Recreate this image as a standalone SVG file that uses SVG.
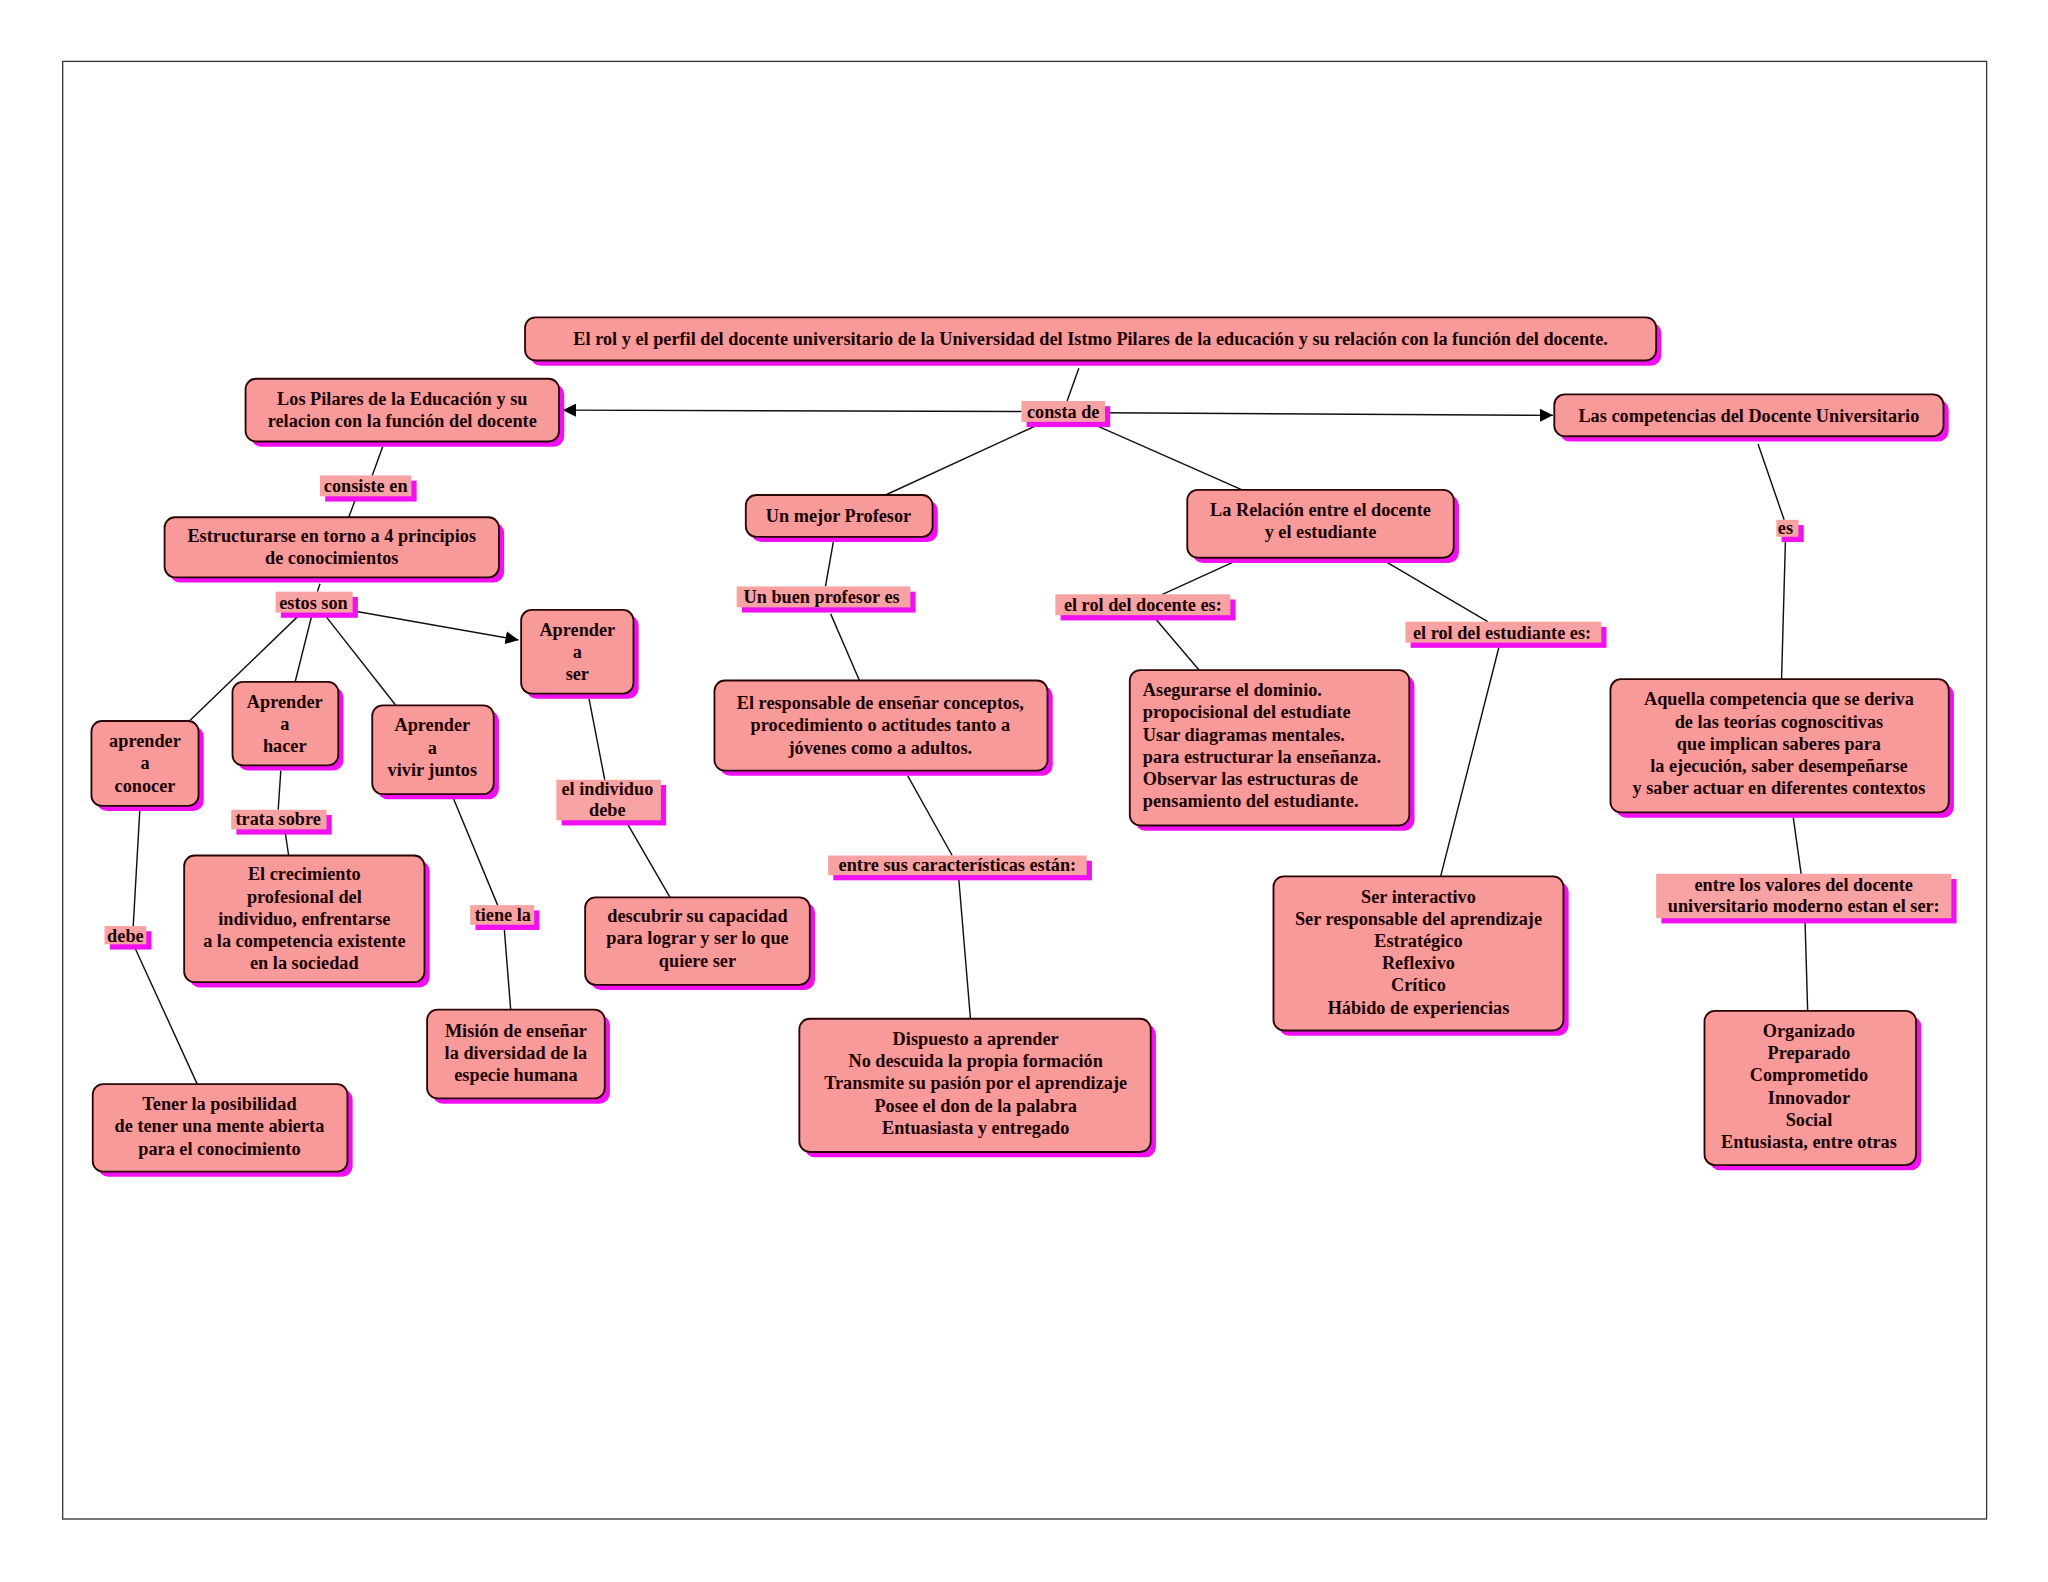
<svg xmlns="http://www.w3.org/2000/svg" width="2048" height="1582" viewBox="0 0 2048 1582">
<style>
.n{fill:#f99a9a;stroke:#2a0505;stroke-width:1.4}
.s{fill:#f010f0}
.l{fill:#f7a3a3}
text{font-family:"Liberation Serif","Times New Roman",serif;font-weight:bold;font-size:14px;fill:#1a0000}
.c{text-anchor:middle}
.e{stroke:#111;stroke-width:1.1;fill:none}
</style>
<defs>
<marker id="ar" viewBox="0 0 10 10" refX="10" refY="5" markerWidth="10" markerHeight="10" markerUnits="userSpaceOnUse" orient="auto"><path d="M0,0L10,5L0,10z" fill="#000"/></marker>
</defs>
<rect width="2048" height="1582" fill="#fff"/>
<g transform="scale(1.30612)">
<rect x="48" y="47" width="1473" height="1116" fill="none" stroke="#333" stroke-width="1"/>
<g id="connectors" class="e">
<path d="M826,282L817,307"/>
<path d="M782,315L431,314" marker-end="url(#ar)"/>
<path d="M846,316L1189,318" marker-end="url(#ar)"/>
<path d="M793,326L678,379"/>
<path d="M840,326L951,375"/>
<path d="M293,342L285,364M273,380L267,396"/>
<path d="M245,447L243,453"/>
<path d="M230,470L145,552"/>
<path d="M239,470L226,522"/>
<path d="M248,470L303,540"/>
<path d="M272,468L397,490" marker-end="url(#ar)"/>
<path d="M451,535L463,597M480,630L513,687"/>
<path d="M215,590L213,620M218,635L221,655"/>
<path d="M107,621L102,709M103,725L151,830"/>
<path d="M347,611L381,693M386,710L391,773"/>
<path d="M638,415L632,449M636,470L658,521"/>
<path d="M695,594L729,655M734,672L743,780"/>
<path d="M945,430L890,455M884,473L918,513"/>
<path d="M1061,430L1139,476M1148,494L1103,671"/>
<path d="M1346,340L1366,398M1367,413L1364,520"/>
<path d="M1373,626L1379,669M1382,706L1384,774"/>
</g>
<g id="title"><rect class="s" x="406" y="247" width="866" height="33" rx="8"/><rect class="n" x="402" y="243" width="866" height="33" rx="8"/><text class="c" x="835" y="264">El rol y el perfil del docente universitario de la Universidad del Istmo Pilares de la educación y su relación con la función del docente.</text></g>
<g id="pilares"><rect class="s" x="192" y="294" width="240" height="48" rx="8"/><rect class="n" x="188" y="290" width="240" height="48" rx="8"/><text class="c" x="308" y="310"><tspan x="308">Los Pilares de la Educación y su</tspan><tspan x="308" dy="17">relacion con la función del docente</tspan></text></g>
<g id="competencias"><rect class="s" x="1194" y="306" width="298" height="32" rx="8"/><rect class="n" x="1190" y="302" width="298" height="32" rx="8"/><text class="c" x="1339" y="323">Las competencias del Docente Universitario</text></g>
<g id="mejor"><rect class="s" x="575" y="383" width="143" height="32" rx="8"/><rect class="n" x="571" y="379" width="143" height="32" rx="8"/><text class="c" x="642" y="400">Un mejor Profesor</text></g>
<g id="relacion"><rect class="s" x="913" y="379" width="204" height="52" rx="8"/><rect class="n" x="909" y="375" width="204" height="52" rx="8"/><text class="c" x="1011" y="395"><tspan x="1011">La Relación entre el docente</tspan><tspan x="1011" dy="17">y el estudiante</tspan></text></g>
<g id="estructurarse"><rect class="s" x="130" y="400" width="256" height="46" rx="8"/><rect class="n" x="126" y="396" width="256" height="46" rx="8"/><text class="c" x="254" y="415"><tspan x="254">Estructurarse en torno a 4 principios</tspan><tspan x="254" dy="17">de conocimientos</tspan></text></g>
<g id="ser"><rect class="s" x="403" y="471" width="86" height="64" rx="8"/><rect class="n" x="399" y="467" width="86" height="64" rx="8"/><text class="c" x="442" y="487"><tspan x="442">Aprender</tspan><tspan x="442" dy="17">a</tspan><tspan x="442" dy="17">ser</tspan></text></g>
<g id="hacer"><rect class="s" x="182" y="526" width="81" height="64" rx="8"/><rect class="n" x="178" y="522" width="81" height="64" rx="8"/><text class="c" x="218" y="542"><tspan x="218">Aprender</tspan><tspan x="218" dy="17">a</tspan><tspan x="218" dy="17">hacer</tspan></text></g>
<g id="conocer"><rect class="s" x="74" y="556" width="82" height="65" rx="8"/><rect class="n" x="70" y="552" width="82" height="65" rx="8"/><text class="c" x="111" y="572"><tspan x="111">aprender</tspan><tspan x="111" dy="17">a</tspan><tspan x="111" dy="17">conocer</tspan></text></g>
<g id="vivir"><rect class="s" x="289" y="544" width="93" height="68" rx="8"/><rect class="n" x="285" y="540" width="93" height="68" rx="8"/><text class="c" x="331" y="560"><tspan x="331">Aprender</tspan><tspan x="331" dy="17">a</tspan><tspan x="331" dy="17">vivir juntos</tspan></text></g>
<g id="responsable"><rect class="s" x="551" y="525" width="255" height="69" rx="8"/><rect class="n" x="547" y="521" width="255" height="69" rx="8"/><text class="c" x="674" y="543"><tspan x="674">El responsable de enseñar conceptos,</tspan><tspan x="674" dy="17">procedimiento o actitudes tanto a</tspan><tspan x="674" dy="17">jóvenes como a adultos.</tspan></text></g>
<g id="asegurarse"><rect class="s" x="869" y="517" width="214" height="119" rx="8"/><rect class="n" x="865" y="513" width="214" height="119" rx="8"/><text x="875" y="533"><tspan x="875">Asegurarse el dominio.</tspan><tspan x="875" dy="17">propocisional del estudiate</tspan><tspan x="875" dy="17">Usar diagramas mentales.</tspan><tspan x="875" dy="17">para estructurar la enseñanza.</tspan><tspan x="875" dy="17">Observar las estructuras de</tspan><tspan x="875" dy="17">pensamiento del estudiante.</tspan></text></g>
<g id="aquella"><rect class="s" x="1237" y="524" width="259" height="102" rx="8"/><rect class="n" x="1233" y="520" width="259" height="102" rx="8"/><text class="c" x="1362" y="540"><tspan x="1362">Aquella competencia que  se  deriva</tspan><tspan x="1362" dy="17">de  las  teorías cognoscitivas</tspan><tspan x="1362" dy="17">que implican saberes para</tspan><tspan x="1362" dy="17">la ejecución, saber desempeñarse</tspan><tspan x="1362" dy="17">y saber actuar en diferentes contextos</tspan></text></g>
<g id="crecimiento"><rect class="s" x="145" y="659" width="184" height="97" rx="8"/><rect class="n" x="141" y="655" width="184" height="97" rx="8"/><text class="c" x="233" y="674"><tspan x="233">El crecimiento</tspan><tspan x="233" dy="17">profesional del</tspan><tspan x="233" dy="17">individuo, enfrentarse</tspan><tspan x="233" dy="17">a la competencia existente</tspan><tspan x="233" dy="17">en la sociedad</tspan></text></g>
<g id="descubrir"><rect class="s" x="452" y="691" width="172" height="67" rx="8"/><rect class="n" x="448" y="687" width="172" height="67" rx="8"/><text class="c" x="534" y="706"><tspan x="534">descubrir su capacidad</tspan><tspan x="534" dy="17">para lograr y ser lo que</tspan><tspan x="534" dy="17">quiere ser</tspan></text></g>
<g id="mision"><rect class="s" x="331" y="777" width="136" height="68" rx="8"/><rect class="n" x="327" y="773" width="136" height="68" rx="8"/><text class="c" x="395" y="794"><tspan x="395">Misión de enseñar</tspan><tspan x="395" dy="17">la diversidad de la</tspan><tspan x="395" dy="17">especie humana</tspan></text></g>
<g id="tener"><rect class="s" x="75" y="834" width="195" height="67" rx="8"/><rect class="n" x="71" y="830" width="195" height="67" rx="8"/><text class="c" x="168" y="850"><tspan x="168">Tener la posibilidad</tspan><tspan x="168" dy="17">de tener una mente abierta</tspan><tspan x="168" dy="17">para el conocimiento</tspan></text></g>
<g id="dispuesto"><rect class="s" x="616" y="784" width="269" height="102" rx="8"/><rect class="n" x="612" y="780" width="269" height="102" rx="8"/><text class="c" x="747" y="800"><tspan x="747">Dispuesto a aprender</tspan><tspan x="747" dy="17">No descuida la propia formación</tspan><tspan x="747" dy="17">Transmite su pasión por el aprendizaje</tspan><tspan x="747" dy="17">Posee el don de la palabra</tspan><tspan x="747" dy="17">Entuasiasta y entregado</tspan></text></g>
<g id="interactivo"><rect class="s" x="979" y="675" width="222" height="118" rx="8"/><rect class="n" x="975" y="671" width="222" height="118" rx="8"/><text class="c" x="1086" y="691"><tspan x="1086">Ser interactivo</tspan><tspan x="1086" dy="17">Ser responsable del aprendizaje</tspan><tspan x="1086" dy="17">Estratégico</tspan><tspan x="1086" dy="17">Reflexivo</tspan><tspan x="1086" dy="17">Crítico</tspan><tspan x="1086" dy="17">Hábido de experiencias</tspan></text></g>
<g id="organizado"><rect class="s" x="1309" y="778" width="162" height="118" rx="8"/><rect class="n" x="1305" y="774" width="162" height="118" rx="8"/><text class="c" x="1385" y="794"><tspan x="1385">Organizado</tspan><tspan x="1385" dy="17">Preparado</tspan><tspan x="1385" dy="17">Comprometido</tspan><tspan x="1385" dy="17">Innovador</tspan><tspan x="1385" dy="17">Social</tspan><tspan x="1385" dy="17">Entusiasta, entre otras</tspan></text></g>
<g id="lbl-consta"><rect class="s" x="786" y="311" width="64" height="16"/><rect class="l" x="782" y="307" width="64" height="16"/><text class="c" x="814" y="320">consta de</text></g>
<g id="lbl-consiste"><rect class="s" x="249" y="368" width="70" height="16"/><rect class="l" x="245" y="364" width="70" height="16"/><text class="c" x="280" y="377">consiste en</text></g>
<g id="lbl-estos"><rect class="s" x="215" y="457" width="59" height="16"/><rect class="l" x="211" y="453" width="59" height="16"/><text class="c" x="240" y="466">estos son</text></g>
<g id="lbl-buen"><rect class="s" x="568" y="453" width="133" height="16"/><rect class="l" x="564" y="449" width="133" height="16"/><text class="c" x="629" y="462">Un buen profesor es</text></g>
<g id="lbl-rdoc"><rect class="s" x="812" y="459" width="134" height="16"/><rect class="l" x="808" y="455" width="134" height="16"/><text class="c" x="875" y="468">el rol del docente es:</text></g>
<g id="lbl-rest"><rect class="s" x="1080" y="480" width="150" height="16"/><rect class="l" x="1076" y="476" width="150" height="16"/><text class="c" x="1150" y="489">el rol del estudiante es:</text></g>
<g id="lbl-es"><rect class="s" x="1364" y="402" width="17" height="13"/><rect class="l" x="1360" y="398" width="17" height="13"/><text class="c" x="1367" y="409">es</text></g>
<g id="lbl-indiv"><rect class="s" x="430" y="601" width="80" height="31"/><rect class="l" x="426" y="597" width="80" height="31"/><text class="c" x="465" y="609"><tspan x="465">el individuo</tspan><tspan x="465" dy="16">debe</tspan></text></g>
<g id="lbl-trata"><rect class="s" x="181" y="624" width="73" height="15"/><rect class="l" x="177" y="620" width="73" height="15"/><text class="c" x="213" y="632">trata sobre</text></g>
<g id="lbl-debe"><rect class="s" x="84" y="713" width="32" height="14"/><rect class="l" x="80" y="709" width="32" height="14"/><text class="c" x="96" y="721">debe</text></g>
<g id="lbl-tiene"><rect class="s" x="364" y="697" width="49" height="15"/><rect class="l" x="360" y="693" width="49" height="15"/><text class="c" x="385" y="705">tiene la</text></g>
<g id="lbl-caract"><rect class="s" x="638" y="659" width="198" height="15"/><rect class="l" x="634" y="655" width="198" height="15"/><text class="c" x="733" y="667">entre sus características están:</text></g>
<g id="lbl-valores"><rect class="s" x="1272" y="673" width="226" height="34"/><rect class="l" x="1268" y="669" width="226" height="34"/><text class="c" x="1381" y="682"><tspan x="1381">entre los valores del docente</tspan><tspan x="1381" dy="16">universitario moderno estan el ser:</tspan></text></g>
</g>
</svg>
